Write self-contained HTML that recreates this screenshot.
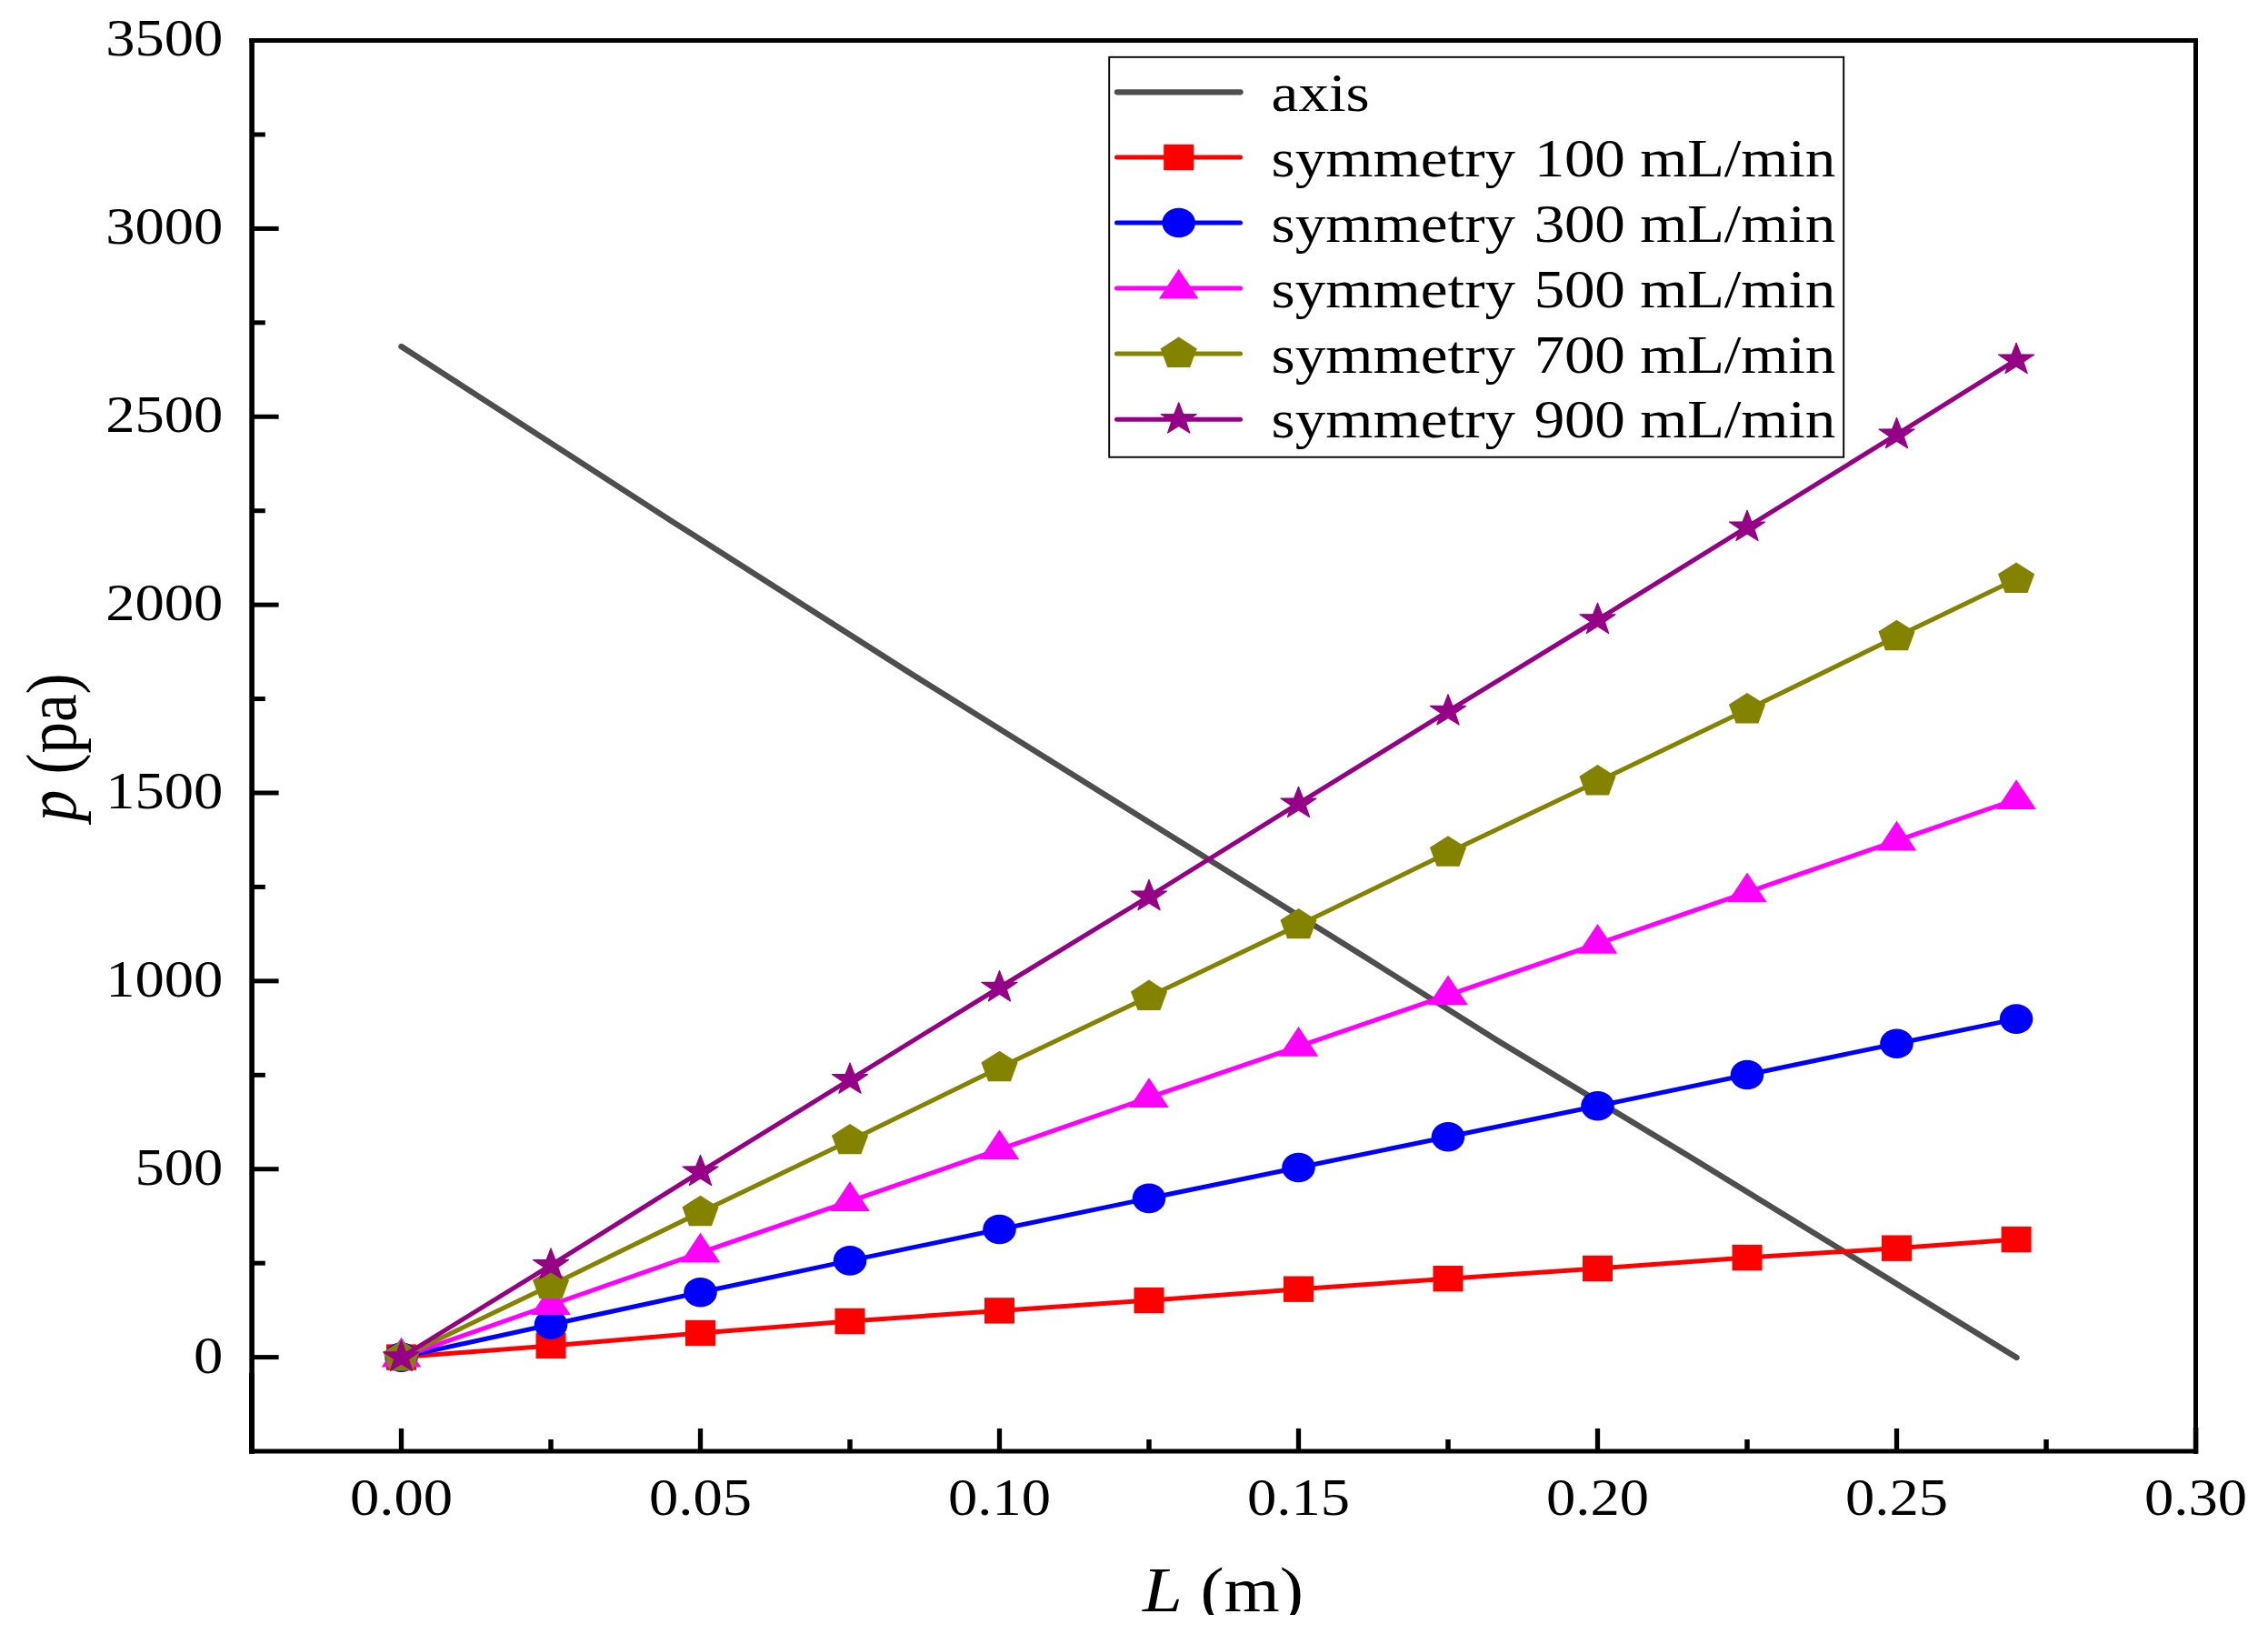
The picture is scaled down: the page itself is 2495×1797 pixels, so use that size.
<!DOCTYPE html>
<html lang="en"><head><meta charset="utf-8"><title>p (pa) versus L (m)</title>
<style>html,body{margin:0;padding:0;background:#fff}body{width:2495px;height:1797px;overflow:hidden}svg{display:block}text{font-family:"Liberation Serif", "Times New Roman", Times, serif;fill:#000;white-space:pre}</style>
</head><body>
<svg width="2495" height="1797" viewBox="0 0 2495 1797" role="img" aria-label="Pressure p (pa) versus length L (m)">
<rect x="0" y="0" width="2495" height="1797" fill="#fff"/>
<polyline fill="none" stroke="#4e4e4e" stroke-width="6.3" stroke-linecap="round" stroke-linejoin="round" points="441.4,381 740,573.8 1000,739.5 1500,1051.5 1650,1146 1860,1272.8 2218.5,1493"/>
<g fill="#ff0000" stroke="none">
<polyline fill="none" stroke="#ff0000" stroke-width="5.0" stroke-linejoin="round" points="441.5,1492.6 606,1479.9 770.5,1466 935,1453 1099.5,1441.4 1264,1430.1 1428.5,1417.7 1593,1406.2 1757.5,1395 1922,1383.1 2086.5,1372.7 2218.1,1363.1"/>
<rect x="425" y="1478.4" width="33" height="28.4"/>
<rect x="589.5" y="1465.7" width="33" height="28.4"/>
<rect x="754" y="1451.8" width="33" height="28.4"/>
<rect x="918.5" y="1438.8" width="33" height="28.4"/>
<rect x="1083" y="1427.2" width="33" height="28.4"/>
<rect x="1247.5" y="1415.9" width="33" height="28.4"/>
<rect x="1412" y="1403.5" width="33" height="28.4"/>
<rect x="1576.5" y="1392" width="33" height="28.4"/>
<rect x="1741" y="1380.8" width="33" height="28.4"/>
<rect x="1905.5" y="1368.9" width="33" height="28.4"/>
<rect x="2070" y="1358.5" width="33" height="28.4"/>
<rect x="2201.6" y="1348.9" width="33" height="28.4"/>
</g>
<g fill="#0000ff" stroke="none">
<polyline fill="none" stroke="#0000ff" stroke-width="5.0" stroke-linejoin="round" points="441.5,1492.6 606,1456.7 770.5,1421.2 935,1386.4 1099.5,1352 1264,1317.9 1428.5,1284 1593,1250.2 1757.5,1216.3 1922,1182 2086.5,1147.7 2218.1,1120.6"/>
<ellipse cx="441.5" cy="1492.6" rx="18.3" ry="16.3"/>
<ellipse cx="606" cy="1456.7" rx="18.3" ry="16.3"/>
<ellipse cx="770.5" cy="1421.2" rx="18.3" ry="16.3"/>
<ellipse cx="935" cy="1386.4" rx="18.3" ry="16.3"/>
<ellipse cx="1099.5" cy="1352" rx="18.3" ry="16.3"/>
<ellipse cx="1264" cy="1317.9" rx="18.3" ry="16.3"/>
<ellipse cx="1428.5" cy="1284" rx="18.3" ry="16.3"/>
<ellipse cx="1593" cy="1250.2" rx="18.3" ry="16.3"/>
<ellipse cx="1757.5" cy="1216.3" rx="18.3" ry="16.3"/>
<ellipse cx="1922" cy="1182" rx="18.3" ry="16.3"/>
<ellipse cx="2086.5" cy="1147.7" rx="18.3" ry="16.3"/>
<ellipse cx="2218.1" cy="1120.6" rx="18.3" ry="16.3"/>
</g>
<g fill="#ff00ff" stroke="none">
<polyline fill="none" stroke="#ff00ff" stroke-width="5.0" stroke-linejoin="round" points="441.5,1492.6 606,1435 770.5,1377.6 935,1321.1 1099.5,1264.1 1264,1207 1428.5,1150.8 1593,1094.4 1757.5,1037.9 1922,981.4 2086.5,924.6 2218.1,879"/>
<polygon points="441.5,1470.8 463.32,1503.5 419.68,1503.5"/>
<polygon points="606,1413.2 627.82,1445.9 584.18,1445.9"/>
<polygon points="770.5,1355.8 792.32,1388.5 748.68,1388.5"/>
<polygon points="935,1299.3 956.82,1332 913.18,1332"/>
<polygon points="1099.5,1242.3 1121.32,1275 1077.68,1275"/>
<polygon points="1264,1185.2 1285.82,1217.9 1242.18,1217.9"/>
<polygon points="1428.5,1129 1450.32,1161.7 1406.68,1161.7"/>
<polygon points="1593,1072.6 1614.82,1105.3 1571.18,1105.3"/>
<polygon points="1757.5,1016.1 1779.32,1048.8 1735.68,1048.8"/>
<polygon points="1922,959.6 1943.82,992.3 1900.18,992.3"/>
<polygon points="2086.5,902.8 2108.32,935.5 2064.68,935.5"/>
<polygon points="2218.1,857.2 2239.92,889.9 2196.28,889.9"/>
</g>
<g fill="#838300" stroke="none">
<polyline fill="none" stroke="#838300" stroke-width="5.0" stroke-linejoin="round" points="441.5,1492.6 606,1413.4 770.5,1333.2 935,1254.4 1099.5,1174.3 1264,1096.1 1428.5,1017.4 1593,937.8 1757.5,859.5 1922,780.5 2086.5,700.3 2218.1,637"/>
<polygon points="441.5,1474.1 461.57,1486.88 453.9,1507.57 429.1,1507.57 421.43,1486.88"/>
<polygon points="606,1394.9 626.07,1407.68 618.4,1428.37 593.6,1428.37 585.93,1407.68"/>
<polygon points="770.5,1314.7 790.57,1327.48 782.9,1348.17 758.1,1348.17 750.43,1327.48"/>
<polygon points="935,1235.9 955.07,1248.68 947.4,1269.37 922.6,1269.37 914.93,1248.68"/>
<polygon points="1099.5,1155.8 1119.57,1168.58 1111.9,1189.27 1087.1,1189.27 1079.43,1168.58"/>
<polygon points="1264,1077.6 1284.07,1090.38 1276.4,1111.07 1251.6,1111.07 1243.93,1090.38"/>
<polygon points="1428.5,998.9 1448.57,1011.68 1440.9,1032.37 1416.1,1032.37 1408.43,1011.68"/>
<polygon points="1593,919.3 1613.07,932.08 1605.4,952.77 1580.6,952.77 1572.93,932.08"/>
<polygon points="1757.5,841 1777.57,853.78 1769.9,874.47 1745.1,874.47 1737.43,853.78"/>
<polygon points="1922,762 1942.07,774.78 1934.4,795.47 1909.6,795.47 1901.93,774.78"/>
<polygon points="2086.5,681.8 2106.57,694.58 2098.9,715.27 2074.1,715.27 2066.43,694.58"/>
<polygon points="2218.1,618.5 2238.17,631.28 2230.5,651.97 2205.7,651.97 2198.03,631.28"/>
</g>
<g fill="#960086" stroke="none">
<polyline fill="none" stroke="#960086" stroke-width="5.0" stroke-linejoin="round" points="441.5,1492.6 606,1391.3 770.5,1288.7 935,1187.3 1099.5,1086 1264,985.8 1428.5,883.7 1593,782.1 1757.5,681.5 1922,579.7 2086.5,477.8 2218.1,395.7"/>
<polygon stroke="#960086" stroke-width="1.2" stroke-linejoin="round" points="441.5,1474.2 446.34,1486.65 461.09,1486.91 449.34,1494.87 453.61,1507.49 441.5,1499.96 429.39,1507.49 433.66,1494.87 421.91,1486.91 436.66,1486.65"/>
<polygon stroke="#960086" stroke-width="1.2" stroke-linejoin="round" points="606,1372.9 610.84,1385.35 625.59,1385.61 613.84,1393.57 618.11,1406.19 606,1398.66 593.89,1406.19 598.16,1393.57 586.41,1385.61 601.16,1385.35"/>
<polygon stroke="#960086" stroke-width="1.2" stroke-linejoin="round" points="770.5,1270.3 775.34,1282.75 790.09,1283.01 778.34,1290.97 782.61,1303.59 770.5,1296.06 758.39,1303.59 762.66,1290.97 750.91,1283.01 765.66,1282.75"/>
<polygon stroke="#960086" stroke-width="1.2" stroke-linejoin="round" points="935,1168.9 939.84,1181.35 954.59,1181.61 942.84,1189.57 947.11,1202.19 935,1194.66 922.89,1202.19 927.16,1189.57 915.41,1181.61 930.16,1181.35"/>
<polygon stroke="#960086" stroke-width="1.2" stroke-linejoin="round" points="1099.5,1067.6 1104.34,1080.05 1119.09,1080.31 1107.34,1088.27 1111.61,1100.89 1099.5,1093.36 1087.39,1100.89 1091.66,1088.27 1079.91,1080.31 1094.66,1080.05"/>
<polygon stroke="#960086" stroke-width="1.2" stroke-linejoin="round" points="1264,967.4 1268.84,979.85 1283.59,980.11 1271.84,988.07 1276.11,1000.69 1264,993.16 1251.89,1000.69 1256.16,988.07 1244.41,980.11 1259.16,979.85"/>
<polygon stroke="#960086" stroke-width="1.2" stroke-linejoin="round" points="1428.5,865.3 1433.34,877.75 1448.09,878.01 1436.34,885.97 1440.61,898.59 1428.5,891.06 1416.39,898.59 1420.66,885.97 1408.91,878.01 1423.66,877.75"/>
<polygon stroke="#960086" stroke-width="1.2" stroke-linejoin="round" points="1593,763.7 1597.84,776.15 1612.59,776.41 1600.84,784.37 1605.11,796.99 1593,789.46 1580.89,796.99 1585.16,784.37 1573.41,776.41 1588.16,776.15"/>
<polygon stroke="#960086" stroke-width="1.2" stroke-linejoin="round" points="1757.5,663.1 1762.34,675.55 1777.09,675.81 1765.34,683.77 1769.61,696.39 1757.5,688.86 1745.39,696.39 1749.66,683.77 1737.91,675.81 1752.66,675.55"/>
<polygon stroke="#960086" stroke-width="1.2" stroke-linejoin="round" points="1922,561.3 1926.84,573.75 1941.59,574.01 1929.84,581.97 1934.11,594.59 1922,587.06 1909.89,594.59 1914.16,581.97 1902.41,574.01 1917.16,573.75"/>
<polygon stroke="#960086" stroke-width="1.2" stroke-linejoin="round" points="2086.5,459.4 2091.34,471.85 2106.09,472.11 2094.34,480.07 2098.61,492.69 2086.5,485.16 2074.39,492.69 2078.66,480.07 2066.91,472.11 2081.66,471.85"/>
<polygon stroke="#960086" stroke-width="1.2" stroke-linejoin="round" points="2218.1,377.3 2222.94,389.75 2237.69,390.01 2225.94,397.97 2230.21,410.59 2218.1,403.06 2205.99,410.59 2210.26,397.97 2198.51,390.01 2213.26,389.75"/>
</g>
<g fill="#000" stroke="none">
<rect x="274.3" y="42" width="5.6" height="1556.5"/>
<rect x="274" y="1510" width="6" height="88.5"/>
<rect x="2413" y="42" width="5" height="1556.5"/>
<rect x="2412.8" y="1570" width="5.6" height="28.5"/>
<rect x="274.3" y="42" width="2143.7" height="5"/>
<rect x="274" y="1593.5" width="2144" height="5"/>
<rect x="277" y="1490.1" width="29.6" height="5"/>
<rect x="277" y="1386.67" width="14.8" height="5"/>
<rect x="277" y="1283.23" width="29.6" height="5"/>
<rect x="277" y="1179.8" width="14.8" height="5"/>
<rect x="277" y="1076.37" width="29.6" height="5"/>
<rect x="277" y="972.94" width="14.8" height="5"/>
<rect x="277" y="869.5" width="29.6" height="5"/>
<rect x="277" y="766.07" width="14.8" height="5"/>
<rect x="277" y="662.64" width="29.6" height="5"/>
<rect x="277" y="559.21" width="14.8" height="5"/>
<rect x="277" y="455.77" width="29.6" height="5"/>
<rect x="277" y="352.34" width="14.8" height="5"/>
<rect x="277" y="248.91" width="29.6" height="5"/>
<rect x="277" y="145.48" width="14.8" height="5"/>
<rect x="438.85" y="1571" width="5.3" height="25"/>
<rect x="603.25" y="1583" width="5.5" height="13"/>
<rect x="767.85" y="1571" width="5.3" height="25"/>
<rect x="932.25" y="1583" width="5.5" height="13"/>
<rect x="1096.85" y="1571" width="5.3" height="25"/>
<rect x="1261.25" y="1583" width="5.5" height="13"/>
<rect x="1425.85" y="1571" width="5.3" height="25"/>
<rect x="1590.25" y="1583" width="5.5" height="13"/>
<rect x="1754.85" y="1571" width="5.3" height="25"/>
<rect x="1919.25" y="1583" width="5.5" height="13"/>
<rect x="2083.85" y="1571" width="5.3" height="25"/>
<rect x="2248.25" y="1583" width="5.5" height="13"/>
</g>
<text transform="translate(245.3,1509.5) scale(1.14,1)" font-size="56.6" text-anchor="end">0</text>
<text transform="translate(245.3,1302.63) scale(1.14,1)" font-size="56.6" text-anchor="end">500</text>
<text transform="translate(245.3,1095.77) scale(1.14,1)" font-size="56.6" text-anchor="end">1000</text>
<text transform="translate(245.3,888.9) scale(1.14,1)" font-size="56.6" text-anchor="end">1500</text>
<text transform="translate(245.3,682.04) scale(1.14,1)" font-size="56.6" text-anchor="end">2000</text>
<text transform="translate(245.3,475.17) scale(1.14,1)" font-size="56.6" text-anchor="end">2500</text>
<text transform="translate(245.3,268.31) scale(1.14,1)" font-size="56.6" text-anchor="end">3000</text>
<text transform="translate(245.3,61.44) scale(1.14,1)" font-size="56.6" text-anchor="end">3500</text>
<text transform="translate(441.5,1666) scale(1.14,1)" font-size="56.6" text-anchor="middle">0.00</text>
<text transform="translate(770.5,1666) scale(1.14,1)" font-size="56.6" text-anchor="middle">0.05</text>
<text transform="translate(1099.5,1666) scale(1.14,1)" font-size="56.6" text-anchor="middle">0.10</text>
<text transform="translate(1428.5,1666) scale(1.14,1)" font-size="56.6" text-anchor="middle">0.15</text>
<text transform="translate(1757.5,1666) scale(1.14,1)" font-size="56.6" text-anchor="middle">0.20</text>
<text transform="translate(2086.5,1666) scale(1.14,1)" font-size="56.6" text-anchor="middle">0.25</text>
<text transform="translate(2415.5,1666) scale(1.14,1)" font-size="56.6" text-anchor="middle">0.30</text>
<clipPath id="cb"><rect x="0" y="0" width="2495" height="1776"/></clipPath>
<g clip-path="url(#cb)">
<text transform="translate(1345.5,1772) scale(1.14,1)" font-size="69.0" text-anchor="middle" xml:space="preserve"><tspan font-style="italic">L</tspan> (m)</text>
</g>
<text transform="translate(83.3,821.8) scale(1.14,1) rotate(-90)" font-size="69.0" text-anchor="middle" xml:space="preserve"><tspan font-style="italic">p</tspan> (pa)</text>
<rect x="1220.2" y="62.8" width="808" height="439.95" fill="#fff" stroke="#000" stroke-width="1.9"/>
<line x1="1229" y1="101.3" x2="1364.5" y2="101.3" stroke="#4e4e4e" stroke-width="6.3" stroke-linecap="round"/>
<text transform="translate(1398.6,122.1) scale(1.1265,1)" font-size="59.6" xml:space="preserve">axis</text>
<g fill="#ff0000">
<line x1="1228.5" y1="173" x2="1364.5" y2="173" stroke="#ff0000" stroke-width="5.0" stroke-linecap="round"/>
<rect x="1280.2" y="158.8" width="33" height="28.4"/>
</g>
<text transform="translate(1398.6,193.96) scale(1.1265,1)" font-size="59.6" xml:space="preserve">symmetry<tspan dx="3.6" letter-spacing="-0.22"> 100 mL/min</tspan></text>
<g fill="#0000ff">
<line x1="1228.5" y1="245" x2="1364.5" y2="245" stroke="#0000ff" stroke-width="5.0" stroke-linecap="round"/>
<ellipse cx="1296.7" cy="245" rx="18.3" ry="16.3"/>
</g>
<text transform="translate(1398.6,265.82) scale(1.1265,1)" font-size="59.6" xml:space="preserve">symmetry<tspan dx="3.6" letter-spacing="-0.22"> 300 mL/min</tspan></text>
<g fill="#ff00ff">
<line x1="1228.5" y1="317" x2="1364.5" y2="317" stroke="#ff00ff" stroke-width="5.0" stroke-linecap="round"/>
<polygon points="1296.7,295.8 1318.52,328.5 1274.88,328.5"/>
</g>
<text transform="translate(1398.6,337.68) scale(1.1265,1)" font-size="59.6" xml:space="preserve">symmetry<tspan dx="3.6" letter-spacing="-0.22"> 500 mL/min</tspan></text>
<g fill="#838300">
<line x1="1228.5" y1="389.1" x2="1364.5" y2="389.1" stroke="#838300" stroke-width="5.0" stroke-linecap="round"/>
<polygon points="1296.7,370.6 1316.77,383.38 1309.1,404.07 1284.3,404.07 1276.63,383.38"/>
</g>
<text transform="translate(1398.6,409.54) scale(1.1265,1)" font-size="59.6" xml:space="preserve">symmetry<tspan dx="3.6" letter-spacing="-0.22"> 700 mL/min</tspan></text>
<g fill="#960086">
<line x1="1228.5" y1="461.2" x2="1364.5" y2="461.2" stroke="#960086" stroke-width="5.0" stroke-linecap="round"/>
<polygon stroke="#960086" stroke-width="1.2" stroke-linejoin="round" points="1296.7,442.8 1301.54,455.25 1316.29,455.51 1304.54,463.47 1308.81,476.09 1296.7,468.56 1284.59,476.09 1288.86,463.47 1277.11,455.51 1291.86,455.25"/>
</g>
<text transform="translate(1398.6,481.4) scale(1.1265,1)" font-size="59.6" xml:space="preserve">symmetry<tspan dx="3.6" letter-spacing="-0.22"> 900 mL/min</tspan></text>
</svg>
</body></html>
